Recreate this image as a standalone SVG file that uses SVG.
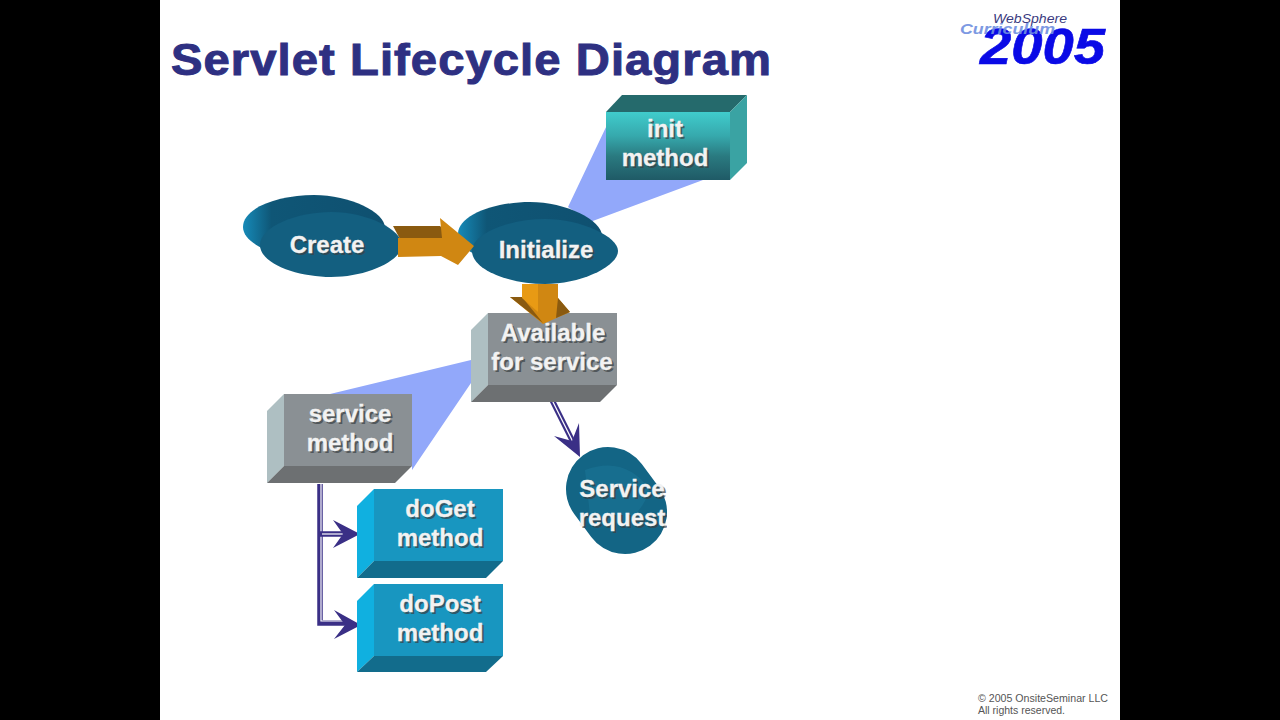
<svg xmlns="http://www.w3.org/2000/svg" width="1280" height="720" viewBox="0 0 1280 720">
<style>
.lbl{font-family:"Liberation Sans",Arial,sans-serif;font-weight:bold;font-size:24px;fill:#f2f2f2;text-anchor:middle;stroke:#f2f2f2;stroke-width:.3}
.shd{fill:#3a3f42;stroke:none;opacity:.7}
.conn{fill:none;stroke:#3a2f86;stroke-width:5.5}
.gap{fill:none;stroke:#fff;stroke-width:1.2}
.head{fill:#3a2f86}
.call{fill:#92a8fa}
.ttl{font-family:"Liberation Sans",Arial,sans-serif}
</style>
<defs>
<linearGradient id="teal" x1="0" y1="0" x2="0" y2="1"><stop offset="0" stop-color="#40cccc"/><stop offset=".35" stop-color="#36a9ad"/><stop offset=".65" stop-color="#2a7a80"/><stop offset="1" stop-color="#1f5a66"/></linearGradient>
<linearGradient id="oval" x1="0" y1="0" x2="1" y2="0"><stop offset="0" stop-color="#168ab8"/><stop offset=".2" stop-color="#0f5676"/><stop offset="1" stop-color="#0f5070"/></linearGradient>
<clipPath id="reqClip"><rect x="540" y="430" width="127" height="140"/></clipPath>
</defs>
<rect width="1280" height="720" fill="#000"/>
<rect x="160" width="960" height="720" fill="#fff"/>
<text class="ttl" x="171" y="75" font-weight="bold" font-size="44" letter-spacing="1" fill="#2e3082" stroke="#2e3082" stroke-width="1" textLength="601" lengthAdjust="spacingAndGlyphs">Servlet Lifecycle Diagram</text>
<g id="logo">
<text class="ttl" x="993" y="23" font-style="italic" font-size="12.5" fill="#3a3a80" textLength="74" lengthAdjust="spacingAndGlyphs">WebSphere</text>
<text class="ttl" x="980" y="64" font-style="italic" font-weight="bold" font-size="50" fill="#0a0ae6" stroke="#0a0ae6" stroke-width=".6" textLength="125" lengthAdjust="spacingAndGlyphs">2005</text>
<text class="ttl" x="960" y="34" font-style="italic" font-weight="bold" font-size="14" fill="#6f8fe0" opacity=".9" textLength="95" lengthAdjust="spacingAndGlyphs">Curriculum</text>
</g>
<g id="connectors">
<polygon class="call" points="607,125 568,207 590,222 703,180 606,180"/>
<polygon class="call" points="471,360 330,394 412,466 412,470 471,383"/>
<path class="conn" d="M550,396 L574,444"/><path class="gap" d="M550,396 L574,444"/>
<polygon class="head" points="580,457 554,436 572,441 579,423"/>
<path class="conn" d="M320,484 V623 H345"/><path class="gap" d="M321,484 V621 H345"/>
<path class="conn" d="M320,534 H345"/><path class="gap" d="M322,534 H345"/>
<polygon class="head" points="360,534 333,520 343,534 333,548"/>
<polygon class="head" points="361,625 334,610 345,625 334,639"/>
</g>
<g id="create">
<path d="M243,227 C243,207 280,195 314,195 C350,195 385,212 385,228 C385,244 350,259 314,259 C280,259 243,245 243,227Z" fill="url(#oval)"/>
<path d="M260,245 C260,226 298,212 331,212 C368,212 402,230 402,245 C402,260 368,277 331,277 C298,277 260,264 260,245Z" fill="#135f80"/>
<text class="lbl shd" x="329" y="255">Create</text><text class="lbl" x="327" y="253">Create</text>
</g>
<g id="initialize">
<path d="M458,234 C458,215 495,202 530,202 C566,202 602,220 602,236 C602,251 566,266 530,266 C495,266 458,253 458,234Z" fill="url(#oval)"/>
<path d="M472,251 C472,233 510,219 545,219 C582,219 618,237 618,251 C618,266 582,284 545,284 C510,284 472,270 472,251Z" fill="#135f80"/>
<text class="lbl shd" x="548" y="260">Initialize</text><text class="lbl" x="546" y="258">Initialize</text>
</g>
<g id="init-method">
<polygon points="606,112 622,95 747,95 730,112" fill="#256a6c"/>
<polygon points="730,112 747,95 747,163 730,180" fill="#3aa3a3"/>
<rect x="606" y="112" width="124" height="68" fill="url(#teal)"/>
<text class="lbl shd" x="667" y="139">init</text><text class="lbl" x="665" y="137">init</text>
<text class="lbl shd" x="667" y="168">method</text><text class="lbl" x="665" y="166">method</text>
</g>
<g id="available">
<polygon points="471,330 488,313 488,385 471,402" fill="#aebfc2"/>
<polygon points="471,402 488,385 617,385 600,402" fill="#6d7072"/>
<rect x="488" y="313" width="129" height="72" fill="#8a9094"/>
<text class="lbl shd" x="555" y="343">Available</text><text class="lbl" x="553" y="341">Available</text>
<text class="lbl shd" x="554" y="372">for service</text><text class="lbl" x="552" y="370">for service</text>
</g>
<g id="arrows">
<polygon points="393,226 440,226 454,239 400,239" fill="#8a5a10"/>
<polygon points="398,238 442,238 440,218 474,246 458,265 441,256 398,257" fill="#d08712"/>
<polygon points="510,297 522,297 522,284 558,284 558,298 570,312 543,324" fill="#d08712"/>
<polygon points="510,297 522,297 543,323" fill="#8a5a10"/>
<polygon points="522,284 538,284 538,312 522,298" fill="#e89a14"/>
<polygon points="558,298 570,312 556,318" fill="#8a5a10"/>
</g>
<g id="service-method">
<polygon points="267,411 284,394 284,466 267,483" fill="#aebfc2"/>
<polygon points="267,483 284,466 412,466 395,483" fill="#6d7072"/>
<rect x="284" y="394" width="128" height="72" fill="#8a9094"/>
<text class="lbl shd" x="352" y="424">service</text><text class="lbl" x="350" y="422">service</text>
<text class="lbl shd" x="352" y="453">method</text><text class="lbl" x="350" y="451">method</text>
</g>
<g id="service-request">
<g clip-path="url(#reqClip)">
<path d="M608,489 L625,512" fill="none" stroke="#136585" stroke-width="84" stroke-linecap="round"/>
<path d="M585,470 Q625,455 650,490 Q630,540 590,515Z" fill="#1a7596" opacity=".6"/>
<text class="lbl shd" x="624" y="499">Service</text><text class="lbl" x="622" y="497">Service</text>
<text class="lbl shd" x="624" y="528">request</text><text class="lbl" x="622" y="526">request</text>
</g>
</g>
<g id="doget">
<polygon points="357,506 374,489 374,561 357,578" fill="#10b0e0"/>
<polygon points="357,578 374,561 503,561 486,578" fill="#126c8c"/>
<rect x="374" y="489" width="129" height="72" fill="#1896c0"/>
<text class="lbl shd" x="442" y="519">doGet</text><text class="lbl" x="440" y="517">doGet</text>
<text class="lbl shd" x="442" y="548">method</text><text class="lbl" x="440" y="546">method</text>
</g>
<g id="dopost">
<polygon points="357,601 374,584 374,656 357,672" fill="#10b0e0"/>
<polygon points="357,672 374,656 503,656 486,672" fill="#126c8c"/>
<rect x="374" y="584" width="129" height="72" fill="#1896c0"/>
<text class="lbl shd" x="442" y="614">doPost</text><text class="lbl" x="440" y="612">doPost</text>
<text class="lbl shd" x="442" y="643">method</text><text class="lbl" x="440" y="641">method</text>
</g>
<g class="ttl" font-size="10" fill="#555">
<text x="978" y="702" textLength="130" lengthAdjust="spacingAndGlyphs">© 2005 OnsiteSeminar LLC</text>
<text x="978" y="714" textLength="87" lengthAdjust="spacingAndGlyphs">All rights reserved.</text>
</g>
</svg>
